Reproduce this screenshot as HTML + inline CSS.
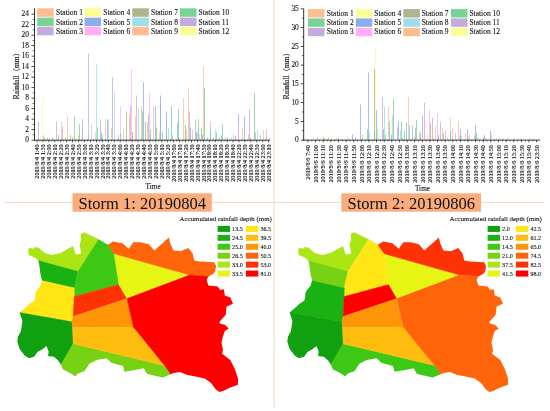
<!DOCTYPE html>
<html lang="en"><head><meta charset="utf-8"><title>Storm rainfall</title>
<style>html,body{margin:0;padding:0;background:#fff}svg{display:block}text{stroke:#111;stroke-width:0.1px}text.big{stroke:none}</style></head>
<body>
<svg width="550" height="411" viewBox="0 0 550 411" font-family='"Liberation Serif", "Noto Serif CJK SC", serif'>
<rect width="550" height="411" fill="#fff"/>
<rect x="273.6" y="0" width="1" height="408" fill="#FBD3BF"/>
<rect x="4.5" y="201.9" width="539.5" height="1" fill="#FBD3BF"/>
<rect x="38" y="121.78" width="1" height="18.38" fill="#C3ACDC" fill-opacity="0.78"/>
<rect x="42" y="98.15" width="1" height="42.00" fill="#FDFD96" fill-opacity="0.78"/>
<rect x="43" y="134.90" width="1" height="5.25" fill="#FCBE91" fill-opacity="0.78"/>
<rect x="44" y="137.53" width="1" height="2.62" fill="#78D496" fill-opacity="0.78"/>
<rect x="47" y="137.53" width="1" height="2.62" fill="#78D496" fill-opacity="0.78"/>
<rect x="49" y="137.53" width="1" height="2.62" fill="#FCBE91" fill-opacity="0.78"/>
<rect x="52" y="137.53" width="1" height="2.62" fill="#78D496" fill-opacity="0.78"/>
<rect x="56" y="121.78" width="1" height="18.38" fill="#C3ACDC" fill-opacity="0.78"/>
<rect x="58" y="134.90" width="1" height="5.25" fill="#78D496" fill-opacity="0.78"/>
<rect x="61" y="121.78" width="1" height="18.38" fill="#FCBE91" fill-opacity="0.78"/>
<rect x="62" y="127.03" width="1" height="13.12" fill="#C3ACDC" fill-opacity="0.78"/>
<rect x="65" y="137.53" width="1" height="2.62" fill="#78D496" fill-opacity="0.78"/>
<rect x="67" y="116.53" width="1" height="23.62" fill="#FCBE91" fill-opacity="0.78"/>
<rect x="70" y="134.90" width="1" height="5.25" fill="#78D496" fill-opacity="0.78"/>
<rect x="72" y="137.53" width="1" height="2.62" fill="#8CAFEB" fill-opacity="0.78"/>
<rect x="74" y="116.53" width="1" height="23.62" fill="#78D496" fill-opacity="0.78"/>
<rect x="78" y="134.90" width="1" height="5.25" fill="#FCBE91" fill-opacity="0.78"/>
<rect x="79" y="124.40" width="1" height="15.75" fill="#78D496" fill-opacity="0.78"/>
<rect x="82" y="127.03" width="1" height="13.12" fill="#AEB48C" fill-opacity="0.78"/>
<rect x="82" y="119.15" width="1" height="21.00" fill="#C3ACDC" fill-opacity="0.78"/>
<rect x="88" y="134.90" width="1" height="5.25" fill="#FCBE91" fill-opacity="0.78"/>
<rect x="88" y="53.53" width="1" height="86.62" fill="#C3ACDC" fill-opacity="0.78"/>
<rect x="91" y="124.40" width="1" height="15.75" fill="#9EDEE8" fill-opacity="0.78"/>
<rect x="95" y="132.28" width="1" height="7.88" fill="#FFAFFA" fill-opacity="0.78"/>
<rect x="96" y="64.03" width="1" height="76.12" fill="#9EDEE8" fill-opacity="0.78"/>
<rect x="97" y="127.03" width="1" height="13.12" fill="#78D496" fill-opacity="0.78"/>
<rect x="100" y="119.15" width="1" height="21.00" fill="#C3ACDC" fill-opacity="0.78"/>
<rect x="101" y="132.28" width="1" height="7.88" fill="#8CAFEB" fill-opacity="0.78"/>
<rect x="102" y="135.43" width="1" height="4.73" fill="#9EDEE8" fill-opacity="0.78"/>
<rect x="105" y="119.15" width="1" height="21.00" fill="#FCBE91" fill-opacity="0.78"/>
<rect x="107" y="119.68" width="1" height="20.47" fill="#8CAFEB" fill-opacity="0.78"/>
<rect x="108" y="119.15" width="1" height="21.00" fill="#9EDEE8" fill-opacity="0.78"/>
<rect x="111" y="127.55" width="1" height="12.60" fill="#FCBE91" fill-opacity="0.78"/>
<rect x="112" y="77.15" width="1" height="63.00" fill="#C3ACDC" fill-opacity="0.78"/>
<rect x="114" y="92.90" width="1" height="47.25" fill="#9EDEE8" fill-opacity="0.78"/>
<rect x="118" y="134.90" width="1" height="5.25" fill="#C3ACDC" fill-opacity="0.78"/>
<rect x="120" y="106.03" width="1" height="34.12" fill="#FFAFFA" fill-opacity="0.78"/>
<rect x="120" y="133.33" width="1" height="6.83" fill="#8CAFEB" fill-opacity="0.78"/>
<rect x="123" y="129.65" width="1" height="10.50" fill="#FCBE91" fill-opacity="0.78"/>
<rect x="126" y="111.28" width="1" height="28.88" fill="#AEB48C" fill-opacity="0.78"/>
<rect x="129" y="113.90" width="1" height="26.25" fill="#FCBE91" fill-opacity="0.78"/>
<rect x="130" y="106.03" width="1" height="34.12" fill="#C3ACDC" fill-opacity="0.78"/>
<rect x="131" y="69.28" width="1" height="70.88" fill="#FFAFFA" fill-opacity="0.78"/>
<rect x="132" y="132.28" width="1" height="7.88" fill="#AEB48C" fill-opacity="0.78"/>
<rect x="135" y="116.53" width="1" height="23.62" fill="#FCBE91" fill-opacity="0.78"/>
<rect x="136" y="95.53" width="1" height="44.62" fill="#C3ACDC" fill-opacity="0.78"/>
<rect x="138" y="108.65" width="1" height="31.50" fill="#9EDEE8" fill-opacity="0.78"/>
<rect x="141" y="106.03" width="1" height="34.12" fill="#FCBE91" fill-opacity="0.78"/>
<rect x="142" y="111.28" width="1" height="28.88" fill="#78D496" fill-opacity="0.78"/>
<rect x="143" y="82.40" width="1" height="57.75" fill="#8CAFEB" fill-opacity="0.78"/>
<rect x="145" y="121.78" width="1" height="18.38" fill="#78D496" fill-opacity="0.78"/>
<rect x="147" y="121.78" width="1" height="18.38" fill="#FCBE91" fill-opacity="0.78"/>
<rect x="148" y="114.43" width="1" height="25.73" fill="#C3ACDC" fill-opacity="0.78"/>
<rect x="149" y="92.90" width="1" height="47.25" fill="#FFAFFA" fill-opacity="0.78"/>
<rect x="150" y="129.65" width="1" height="10.50" fill="#78D496" fill-opacity="0.78"/>
<rect x="153" y="106.03" width="1" height="34.12" fill="#FCBE91" fill-opacity="0.78"/>
<rect x="155" y="106.03" width="1" height="34.12" fill="#8CAFEB" fill-opacity="0.78"/>
<rect x="156" y="127.55" width="1" height="12.60" fill="#78D496" fill-opacity="0.78"/>
<rect x="159" y="132.28" width="1" height="7.88" fill="#FCBE91" fill-opacity="0.78"/>
<rect x="160" y="103.40" width="1" height="36.75" fill="#C3ACDC" fill-opacity="0.78"/>
<rect x="160" y="95.53" width="1" height="44.62" fill="#8CAFEB" fill-opacity="0.78"/>
<rect x="162" y="132.28" width="1" height="7.88" fill="#78D496" fill-opacity="0.78"/>
<rect x="166" y="119.15" width="1" height="21.00" fill="#C3ACDC" fill-opacity="0.78"/>
<rect x="166" y="111.28" width="1" height="28.88" fill="#8CAFEB" fill-opacity="0.78"/>
<rect x="168" y="128.08" width="1" height="12.07" fill="#9EDEE8" fill-opacity="0.78"/>
<rect x="171" y="106.03" width="1" height="34.12" fill="#78D496" fill-opacity="0.78"/>
<rect x="172" y="135.43" width="1" height="4.73" fill="#C3ACDC" fill-opacity="0.78"/>
<rect x="177" y="122.30" width="1" height="17.85" fill="#78D496" fill-opacity="0.78"/>
<rect x="178" y="108.65" width="1" height="31.50" fill="#8CAFEB" fill-opacity="0.78"/>
<rect x="183" y="98.15" width="1" height="42.00" fill="#FCBE91" fill-opacity="0.78"/>
<rect x="184" y="117.58" width="1" height="22.57" fill="#FDFD96" fill-opacity="0.78"/>
<rect x="185" y="124.93" width="1" height="15.22" fill="#8CAFEB" fill-opacity="0.78"/>
<rect x="186" y="129.65" width="1" height="10.50" fill="#FCBE91" fill-opacity="0.78"/>
<rect x="188" y="87.65" width="1" height="52.50" fill="#FCBE91" fill-opacity="0.78"/>
<rect x="189" y="111.28" width="1" height="28.88" fill="#C3ACDC" fill-opacity="0.78"/>
<rect x="190" y="127.55" width="1" height="12.60" fill="#8CAFEB" fill-opacity="0.78"/>
<rect x="192" y="129.65" width="1" height="10.50" fill="#FCBE91" fill-opacity="0.78"/>
<rect x="195" y="119.15" width="1" height="21.00" fill="#C3ACDC" fill-opacity="0.78"/>
<rect x="196" y="132.28" width="1" height="7.88" fill="#8CAFEB" fill-opacity="0.78"/>
<rect x="197" y="130.70" width="1" height="9.45" fill="#9EDEE8" fill-opacity="0.78"/>
<rect x="198" y="119.15" width="1" height="21.00" fill="#78D496" fill-opacity="0.78"/>
<rect x="199" y="134.38" width="1" height="5.78" fill="#FCBE91" fill-opacity="0.78"/>
<rect x="201" y="127.55" width="1" height="12.60" fill="#78D496" fill-opacity="0.78"/>
<rect x="202" y="134.90" width="1" height="5.25" fill="#8CAFEB" fill-opacity="0.78"/>
<rect x="203" y="66.65" width="1" height="73.50" fill="#FCBE91" fill-opacity="0.78"/>
<rect x="204" y="87.65" width="1" height="52.50" fill="#78D496" fill-opacity="0.78"/>
<rect x="207" y="137.53" width="1" height="2.62" fill="#8CAFEB" fill-opacity="0.78"/>
<rect x="210" y="121.78" width="1" height="18.38" fill="#FCBE91" fill-opacity="0.78"/>
<rect x="210" y="127.55" width="1" height="12.60" fill="#78D496" fill-opacity="0.78"/>
<rect x="213" y="137.53" width="1" height="2.62" fill="#C3ACDC" fill-opacity="0.78"/>
<rect x="215" y="129.65" width="1" height="10.50" fill="#9EDEE8" fill-opacity="0.78"/>
<rect x="216" y="132.28" width="1" height="7.88" fill="#78D496" fill-opacity="0.78"/>
<rect x="219" y="137.53" width="1" height="2.62" fill="#C3ACDC" fill-opacity="0.78"/>
<rect x="221" y="135.43" width="1" height="4.73" fill="#8CAFEB" fill-opacity="0.78"/>
<rect x="222" y="124.40" width="1" height="15.75" fill="#78D496" fill-opacity="0.78"/>
<rect x="225" y="137.53" width="1" height="2.62" fill="#FFAFFA" fill-opacity="0.78"/>
<rect x="227" y="137.53" width="1" height="2.62" fill="#78D496" fill-opacity="0.78"/>
<rect x="231" y="137.53" width="1" height="2.62" fill="#FFAFFA" fill-opacity="0.78"/>
<rect x="233" y="134.38" width="1" height="5.78" fill="#9EDEE8" fill-opacity="0.78"/>
<rect x="235" y="135.43" width="1" height="4.73" fill="#C3ACDC" fill-opacity="0.78"/>
<rect x="238" y="113.90" width="1" height="26.25" fill="#8CAFEB" fill-opacity="0.78"/>
<rect x="238" y="124.93" width="1" height="15.22" fill="#FFAFFA" fill-opacity="0.78"/>
<rect x="242" y="127.55" width="1" height="12.60" fill="#FCBE91" fill-opacity="0.78"/>
<rect x="244" y="116.53" width="1" height="23.62" fill="#8CAFEB" fill-opacity="0.78"/>
<rect x="248" y="134.38" width="1" height="5.78" fill="#FCBE91" fill-opacity="0.78"/>
<rect x="249" y="108.65" width="1" height="31.50" fill="#C3ACDC" fill-opacity="0.78"/>
<rect x="250" y="137.53" width="1" height="2.62" fill="#8CAFEB" fill-opacity="0.78"/>
<rect x="254" y="92.90" width="1" height="47.25" fill="#78D496" fill-opacity="0.78"/>
<rect x="255" y="132.28" width="1" height="7.88" fill="#C3ACDC" fill-opacity="0.78"/>
<rect x="257" y="129.65" width="1" height="10.50" fill="#9EDEE8" fill-opacity="0.78"/>
<rect x="260" y="134.90" width="1" height="5.25" fill="#C3ACDC" fill-opacity="0.78"/>
<rect x="263" y="129.65" width="1" height="10.50" fill="#FCBE91" fill-opacity="0.78"/>
<rect x="266" y="129.65" width="1" height="10.50" fill="#C3ACDC" fill-opacity="0.78"/>
<rect x="269" y="137.53" width="1" height="2.62" fill="#9EDEE8" fill-opacity="0.78"/>
<rect x="34.05" y="8.50" width="0.9" height="132.10" fill="#222"/>
<rect x="34.05" y="139.70" width="235.95" height="0.9" fill="#222"/>
<rect x="31.50" y="139.75" width="3" height="0.8" fill="#222"/>
<text x="29.00" y="142.45" font-size="7.4" text-anchor="end" fill="#111" >0</text>
<rect x="32.70" y="134.55" width="1.8" height="0.7" fill="#222"/>
<rect x="31.50" y="129.25" width="3" height="0.8" fill="#222"/>
<text x="29.00" y="131.95" font-size="7.4" text-anchor="end" fill="#111" >2</text>
<rect x="32.70" y="124.05" width="1.8" height="0.7" fill="#222"/>
<rect x="31.50" y="118.75" width="3" height="0.8" fill="#222"/>
<text x="29.00" y="121.45" font-size="7.4" text-anchor="end" fill="#111" >4</text>
<rect x="32.70" y="113.55" width="1.8" height="0.7" fill="#222"/>
<rect x="31.50" y="108.25" width="3" height="0.8" fill="#222"/>
<text x="29.00" y="110.95" font-size="7.4" text-anchor="end" fill="#111" >6</text>
<rect x="32.70" y="103.05" width="1.8" height="0.7" fill="#222"/>
<rect x="31.50" y="97.75" width="3" height="0.8" fill="#222"/>
<text x="29.00" y="100.45" font-size="7.4" text-anchor="end" fill="#111" >8</text>
<rect x="32.70" y="92.55" width="1.8" height="0.7" fill="#222"/>
<rect x="31.50" y="87.25" width="3" height="0.8" fill="#222"/>
<text x="29.00" y="89.95" font-size="7.4" text-anchor="end" fill="#111" >10</text>
<rect x="32.70" y="82.05" width="1.8" height="0.7" fill="#222"/>
<rect x="31.50" y="76.75" width="3" height="0.8" fill="#222"/>
<text x="29.00" y="79.45" font-size="7.4" text-anchor="end" fill="#111" >12</text>
<rect x="32.70" y="71.55" width="1.8" height="0.7" fill="#222"/>
<rect x="31.50" y="66.25" width="3" height="0.8" fill="#222"/>
<text x="29.00" y="68.95" font-size="7.4" text-anchor="end" fill="#111" >14</text>
<rect x="32.70" y="61.05" width="1.8" height="0.7" fill="#222"/>
<rect x="31.50" y="55.75" width="3" height="0.8" fill="#222"/>
<text x="29.00" y="58.45" font-size="7.4" text-anchor="end" fill="#111" >16</text>
<rect x="32.70" y="50.55" width="1.8" height="0.7" fill="#222"/>
<rect x="31.50" y="45.25" width="3" height="0.8" fill="#222"/>
<text x="29.00" y="47.95" font-size="7.4" text-anchor="end" fill="#111" >18</text>
<rect x="32.70" y="40.05" width="1.8" height="0.7" fill="#222"/>
<rect x="31.50" y="34.75" width="3" height="0.8" fill="#222"/>
<text x="29.00" y="37.45" font-size="7.4" text-anchor="end" fill="#111" >20</text>
<rect x="32.70" y="29.55" width="1.8" height="0.7" fill="#222"/>
<rect x="31.50" y="24.25" width="3" height="0.8" fill="#222"/>
<text x="29.00" y="26.95" font-size="7.4" text-anchor="end" fill="#111" >22</text>
<rect x="32.70" y="19.05" width="1.8" height="0.7" fill="#222"/>
<rect x="31.50" y="13.75" width="3" height="0.8" fill="#222"/>
<text x="29.00" y="16.45" font-size="7.4" text-anchor="end" fill="#111" >24</text>
<rect x="36.60" y="140.15" width="0.8" height="2.1" fill="#222"/>
<rect x="39.62" y="140.15" width="0.7" height="1.3" fill="#222"/>
<text transform="translate(39.20,144.4) rotate(-90) scale(0.8662,1)" font-size="7.1" text-anchor="end" fill="#000" stroke="#000" stroke-width="0.09">2019/8/4 1:40</text>
<rect x="42.54" y="140.15" width="0.8" height="2.1" fill="#222"/>
<rect x="45.56" y="140.15" width="0.7" height="1.3" fill="#222"/>
<text transform="translate(45.14,144.4) rotate(-90) scale(0.8662,1)" font-size="7.1" text-anchor="end" fill="#000" stroke="#000" stroke-width="0.09">2019/8/4 1:50</text>
<rect x="48.48" y="140.15" width="0.8" height="2.1" fill="#222"/>
<rect x="51.50" y="140.15" width="0.7" height="1.3" fill="#222"/>
<text transform="translate(51.08,144.4) rotate(-90) scale(0.8662,1)" font-size="7.1" text-anchor="end" fill="#000" stroke="#000" stroke-width="0.09">2019/8/4 2:00</text>
<rect x="54.42" y="140.15" width="0.8" height="2.1" fill="#222"/>
<rect x="57.44" y="140.15" width="0.7" height="1.3" fill="#222"/>
<text transform="translate(57.02,144.4) rotate(-90) scale(0.8662,1)" font-size="7.1" text-anchor="end" fill="#000" stroke="#000" stroke-width="0.09">2019/8/4 2:10</text>
<rect x="60.36" y="140.15" width="0.8" height="2.1" fill="#222"/>
<rect x="63.38" y="140.15" width="0.7" height="1.3" fill="#222"/>
<text transform="translate(62.96,144.4) rotate(-90) scale(0.8662,1)" font-size="7.1" text-anchor="end" fill="#000" stroke="#000" stroke-width="0.09">2019/8/4 2:20</text>
<rect x="66.30" y="140.15" width="0.8" height="2.1" fill="#222"/>
<rect x="69.32" y="140.15" width="0.7" height="1.3" fill="#222"/>
<text transform="translate(68.90,144.4) rotate(-90) scale(0.8662,1)" font-size="7.1" text-anchor="end" fill="#000" stroke="#000" stroke-width="0.09">2019/8/4 2:30</text>
<rect x="72.24" y="140.15" width="0.8" height="2.1" fill="#222"/>
<rect x="75.26" y="140.15" width="0.7" height="1.3" fill="#222"/>
<text transform="translate(74.84,144.4) rotate(-90) scale(0.8662,1)" font-size="7.1" text-anchor="end" fill="#000" stroke="#000" stroke-width="0.09">2019/8/4 2:40</text>
<rect x="78.18" y="140.15" width="0.8" height="2.1" fill="#222"/>
<rect x="81.20" y="140.15" width="0.7" height="1.3" fill="#222"/>
<text transform="translate(80.78,144.4) rotate(-90) scale(0.8662,1)" font-size="7.1" text-anchor="end" fill="#000" stroke="#000" stroke-width="0.09">2019/8/4 2:50</text>
<rect x="84.12" y="140.15" width="0.8" height="2.1" fill="#222"/>
<rect x="87.14" y="140.15" width="0.7" height="1.3" fill="#222"/>
<text transform="translate(86.72,144.4) rotate(-90) scale(0.8662,1)" font-size="7.1" text-anchor="end" fill="#000" stroke="#000" stroke-width="0.09">2019/8/4 3:00</text>
<rect x="90.06" y="140.15" width="0.8" height="2.1" fill="#222"/>
<rect x="93.08" y="140.15" width="0.7" height="1.3" fill="#222"/>
<text transform="translate(92.66,144.4) rotate(-90) scale(0.8662,1)" font-size="7.1" text-anchor="end" fill="#000" stroke="#000" stroke-width="0.09">2019/8/4 3:10</text>
<rect x="96.00" y="140.15" width="0.8" height="2.1" fill="#222"/>
<rect x="99.02" y="140.15" width="0.7" height="1.3" fill="#222"/>
<text transform="translate(98.60,144.4) rotate(-90) scale(0.8662,1)" font-size="7.1" text-anchor="end" fill="#000" stroke="#000" stroke-width="0.09">2019/8/4 3:20</text>
<rect x="101.94" y="140.15" width="0.8" height="2.1" fill="#222"/>
<rect x="104.96" y="140.15" width="0.7" height="1.3" fill="#222"/>
<text transform="translate(104.54,144.4) rotate(-90) scale(0.8662,1)" font-size="7.1" text-anchor="end" fill="#000" stroke="#000" stroke-width="0.09">2019/8/4 3:30</text>
<rect x="107.88" y="140.15" width="0.8" height="2.1" fill="#222"/>
<rect x="110.90" y="140.15" width="0.7" height="1.3" fill="#222"/>
<text transform="translate(110.48,144.4) rotate(-90) scale(0.8662,1)" font-size="7.1" text-anchor="end" fill="#000" stroke="#000" stroke-width="0.09">2019/8/4 3:40</text>
<rect x="113.82" y="140.15" width="0.8" height="2.1" fill="#222"/>
<rect x="116.84" y="140.15" width="0.7" height="1.3" fill="#222"/>
<text transform="translate(116.42,144.4) rotate(-90) scale(0.8662,1)" font-size="7.1" text-anchor="end" fill="#000" stroke="#000" stroke-width="0.09">2019/8/4 3:50</text>
<rect x="119.76" y="140.15" width="0.8" height="2.1" fill="#222"/>
<rect x="122.78" y="140.15" width="0.7" height="1.3" fill="#222"/>
<text transform="translate(122.36,144.4) rotate(-90) scale(0.8662,1)" font-size="7.1" text-anchor="end" fill="#000" stroke="#000" stroke-width="0.09">2019/8/4 4:00</text>
<rect x="125.70" y="140.15" width="0.8" height="2.1" fill="#222"/>
<rect x="128.72" y="140.15" width="0.7" height="1.3" fill="#222"/>
<text transform="translate(128.30,144.4) rotate(-90) scale(0.8662,1)" font-size="7.1" text-anchor="end" fill="#000" stroke="#000" stroke-width="0.09">2019/8/4 4:10</text>
<rect x="131.64" y="140.15" width="0.8" height="2.1" fill="#222"/>
<rect x="134.66" y="140.15" width="0.7" height="1.3" fill="#222"/>
<text transform="translate(134.24,144.4) rotate(-90) scale(0.8662,1)" font-size="7.1" text-anchor="end" fill="#000" stroke="#000" stroke-width="0.09">2019/8/4 4:20</text>
<rect x="137.58" y="140.15" width="0.8" height="2.1" fill="#222"/>
<rect x="140.60" y="140.15" width="0.7" height="1.3" fill="#222"/>
<text transform="translate(140.18,144.4) rotate(-90) scale(0.8662,1)" font-size="7.1" text-anchor="end" fill="#000" stroke="#000" stroke-width="0.09">2019/8/4 4:30</text>
<rect x="143.52" y="140.15" width="0.8" height="2.1" fill="#222"/>
<rect x="146.54" y="140.15" width="0.7" height="1.3" fill="#222"/>
<text transform="translate(146.12,144.4) rotate(-90) scale(0.8662,1)" font-size="7.1" text-anchor="end" fill="#000" stroke="#000" stroke-width="0.09">2019/8/4 4:40</text>
<rect x="149.46" y="140.15" width="0.8" height="2.1" fill="#222"/>
<rect x="152.48" y="140.15" width="0.7" height="1.3" fill="#222"/>
<text transform="translate(152.06,144.4) rotate(-90) scale(0.8662,1)" font-size="7.1" text-anchor="end" fill="#000" stroke="#000" stroke-width="0.09">2019/8/4 4:50</text>
<rect x="155.40" y="140.15" width="0.8" height="2.1" fill="#222"/>
<rect x="158.42" y="140.15" width="0.7" height="1.3" fill="#222"/>
<text transform="translate(158.00,144.4) rotate(-90) scale(0.8662,1)" font-size="7.1" text-anchor="end" fill="#000" stroke="#000" stroke-width="0.09">2019/8/4 5:00</text>
<rect x="161.34" y="140.15" width="0.8" height="2.1" fill="#222"/>
<rect x="164.36" y="140.15" width="0.7" height="1.3" fill="#222"/>
<text transform="translate(163.94,144.4) rotate(-90) scale(0.8662,1)" font-size="7.1" text-anchor="end" fill="#000" stroke="#000" stroke-width="0.09">2019/8/4 5:10</text>
<rect x="167.28" y="140.15" width="0.8" height="2.1" fill="#222"/>
<rect x="170.30" y="140.15" width="0.7" height="1.3" fill="#222"/>
<text transform="translate(169.88,144.4) rotate(-90) scale(0.8662,1)" font-size="7.1" text-anchor="end" fill="#000" stroke="#000" stroke-width="0.09">2019/8/4 5:20</text>
<rect x="173.22" y="140.15" width="0.8" height="2.1" fill="#222"/>
<rect x="176.24" y="140.15" width="0.7" height="1.3" fill="#222"/>
<text transform="translate(175.82,144.4) rotate(-90) scale(0.8662,1)" font-size="7.1" text-anchor="end" fill="#000" stroke="#000" stroke-width="0.09">2019/8/4 17:00</text>
<rect x="179.16" y="140.15" width="0.8" height="2.1" fill="#222"/>
<rect x="182.18" y="140.15" width="0.7" height="1.3" fill="#222"/>
<text transform="translate(181.76,144.4) rotate(-90) scale(0.8662,1)" font-size="7.1" text-anchor="end" fill="#000" stroke="#000" stroke-width="0.09">2019/8/4 17:10</text>
<rect x="185.10" y="140.15" width="0.8" height="2.1" fill="#222"/>
<rect x="188.12" y="140.15" width="0.7" height="1.3" fill="#222"/>
<text transform="translate(187.70,144.4) rotate(-90) scale(0.8662,1)" font-size="7.1" text-anchor="end" fill="#000" stroke="#000" stroke-width="0.09">2019/8/4 17:20</text>
<rect x="191.04" y="140.15" width="0.8" height="2.1" fill="#222"/>
<rect x="194.06" y="140.15" width="0.7" height="1.3" fill="#222"/>
<text transform="translate(193.64,144.4) rotate(-90) scale(0.8662,1)" font-size="7.1" text-anchor="end" fill="#000" stroke="#000" stroke-width="0.09">2019/8/4 17:30</text>
<rect x="196.98" y="140.15" width="0.8" height="2.1" fill="#222"/>
<rect x="200.00" y="140.15" width="0.7" height="1.3" fill="#222"/>
<text transform="translate(199.58,144.4) rotate(-90) scale(0.8662,1)" font-size="7.1" text-anchor="end" fill="#000" stroke="#000" stroke-width="0.09">2019/8/4 17:40</text>
<rect x="202.92" y="140.15" width="0.8" height="2.1" fill="#222"/>
<rect x="205.94" y="140.15" width="0.7" height="1.3" fill="#222"/>
<text transform="translate(205.52,144.4) rotate(-90) scale(0.8662,1)" font-size="7.1" text-anchor="end" fill="#000" stroke="#000" stroke-width="0.09">2019/8/4 17:50</text>
<rect x="208.86" y="140.15" width="0.8" height="2.1" fill="#222"/>
<rect x="211.88" y="140.15" width="0.7" height="1.3" fill="#222"/>
<text transform="translate(211.46,144.4) rotate(-90) scale(0.8662,1)" font-size="7.1" text-anchor="end" fill="#000" stroke="#000" stroke-width="0.09">2019/8/4 18:00</text>
<rect x="214.80" y="140.15" width="0.8" height="2.1" fill="#222"/>
<rect x="217.82" y="140.15" width="0.7" height="1.3" fill="#222"/>
<text transform="translate(217.40,144.4) rotate(-90) scale(0.8662,1)" font-size="7.1" text-anchor="end" fill="#000" stroke="#000" stroke-width="0.09">2019/8/4 18:10</text>
<rect x="220.74" y="140.15" width="0.8" height="2.1" fill="#222"/>
<rect x="223.76" y="140.15" width="0.7" height="1.3" fill="#222"/>
<text transform="translate(223.34,144.4) rotate(-90) scale(0.8662,1)" font-size="7.1" text-anchor="end" fill="#000" stroke="#000" stroke-width="0.09">2019/8/4 18:20</text>
<rect x="226.68" y="140.15" width="0.8" height="2.1" fill="#222"/>
<rect x="229.70" y="140.15" width="0.7" height="1.3" fill="#222"/>
<text transform="translate(229.28,144.4) rotate(-90) scale(0.8662,1)" font-size="7.1" text-anchor="end" fill="#000" stroke="#000" stroke-width="0.09">2019/8/4 18:30</text>
<rect x="232.62" y="140.15" width="0.8" height="2.1" fill="#222"/>
<rect x="235.64" y="140.15" width="0.7" height="1.3" fill="#222"/>
<text transform="translate(235.22,144.4) rotate(-90) scale(0.8662,1)" font-size="7.1" text-anchor="end" fill="#000" stroke="#000" stroke-width="0.09">2019/8/4 18:40</text>
<rect x="238.56" y="140.15" width="0.8" height="2.1" fill="#222"/>
<rect x="241.58" y="140.15" width="0.7" height="1.3" fill="#222"/>
<text transform="translate(241.16,144.4) rotate(-90) scale(0.8662,1)" font-size="7.1" text-anchor="end" fill="#000" stroke="#000" stroke-width="0.09">2019/8/4 22:20</text>
<rect x="244.50" y="140.15" width="0.8" height="2.1" fill="#222"/>
<rect x="247.52" y="140.15" width="0.7" height="1.3" fill="#222"/>
<text transform="translate(247.10,144.4) rotate(-90) scale(0.8662,1)" font-size="7.1" text-anchor="end" fill="#000" stroke="#000" stroke-width="0.09">2019/8/4 22:30</text>
<rect x="250.44" y="140.15" width="0.8" height="2.1" fill="#222"/>
<rect x="253.46" y="140.15" width="0.7" height="1.3" fill="#222"/>
<text transform="translate(253.04,144.4) rotate(-90) scale(0.8662,1)" font-size="7.1" text-anchor="end" fill="#000" stroke="#000" stroke-width="0.09">2019/8/4 22:40</text>
<rect x="256.38" y="140.15" width="0.8" height="2.1" fill="#222"/>
<rect x="259.40" y="140.15" width="0.7" height="1.3" fill="#222"/>
<text transform="translate(258.98,144.4) rotate(-90) scale(0.8662,1)" font-size="7.1" text-anchor="end" fill="#000" stroke="#000" stroke-width="0.09">2019/8/4 22:50</text>
<rect x="262.32" y="140.15" width="0.8" height="2.1" fill="#222"/>
<rect x="265.34" y="140.15" width="0.7" height="1.3" fill="#222"/>
<text transform="translate(264.92,144.4) rotate(-90) scale(0.8662,1)" font-size="7.1" text-anchor="end" fill="#000" stroke="#000" stroke-width="0.09">2019/8/4 23:00</text>
<rect x="268.26" y="140.15" width="0.8" height="2.1" fill="#222"/>
<text transform="translate(270.86,144.4) rotate(-90) scale(0.8662,1)" font-size="7.1" text-anchor="end" fill="#000" stroke="#000" stroke-width="0.09">2019/8/4 23:10</text>
<text transform="translate(19.00,99.3) rotate(-90)" font-size="7.4" text-anchor="start" fill="#111">Rainfall（mm）</text>
<text x="153.10" y="188.80" font-size="7.3" text-anchor="middle" fill="#111" >Time</text>
<rect x="37.20" y="8.30" width="16.5" height="8.5" fill="#FCBE91"/>
<text x="56.10" y="15.20" font-size="7.5" text-anchor="start" fill="#111" >Station 1</text>
<rect x="37.20" y="17.60" width="16.5" height="8.5" fill="#78D496"/>
<text x="56.10" y="24.50" font-size="7.5" text-anchor="start" fill="#111" >Station 2</text>
<rect x="37.20" y="26.80" width="16.5" height="8.5" fill="#C3ACDC"/>
<text x="56.10" y="33.80" font-size="7.5" text-anchor="start" fill="#111" >Station 3</text>
<rect x="84.60" y="8.30" width="16.5" height="8.5" fill="#FDFD96"/>
<text x="103.30" y="15.20" font-size="7.5" text-anchor="start" fill="#111" >Station 4</text>
<rect x="84.60" y="17.60" width="16.5" height="8.5" fill="#8CAFEB"/>
<text x="103.30" y="24.50" font-size="7.5" text-anchor="start" fill="#111" >Station 5</text>
<rect x="84.60" y="26.80" width="16.5" height="8.5" fill="#FFAFFA"/>
<text x="103.30" y="33.80" font-size="7.5" text-anchor="start" fill="#111" >Station 6</text>
<rect x="132.30" y="8.30" width="16.5" height="8.5" fill="#AEB48C"/>
<text x="151.00" y="15.20" font-size="7.5" text-anchor="start" fill="#111" >Station 7</text>
<rect x="132.30" y="17.60" width="16.5" height="8.5" fill="#9EDEE8"/>
<text x="151.00" y="24.50" font-size="7.5" text-anchor="start" fill="#111" >Station 8</text>
<rect x="132.30" y="26.80" width="16.5" height="8.5" fill="#FCBE91"/>
<text x="151.00" y="33.80" font-size="7.5" text-anchor="start" fill="#111" >Station 9</text>
<rect x="180.00" y="8.30" width="16.5" height="8.5" fill="#78D496"/>
<text x="198.60" y="15.20" font-size="7.5" text-anchor="start" fill="#111" >Station 10</text>
<rect x="180.00" y="17.60" width="16.5" height="8.5" fill="#C3ACDC"/>
<text x="198.60" y="24.50" font-size="7.5" text-anchor="start" fill="#111" >Station 11</text>
<rect x="180.00" y="26.80" width="16.5" height="8.5" fill="#FDFD96"/>
<text x="198.60" y="33.80" font-size="7.5" text-anchor="start" fill="#111" >Station 12</text>
<rect x="307" y="138.97" width="1" height="1.12" fill="#FCBE91" fill-opacity="0.78"/>
<rect x="313" y="136.91" width="1" height="3.19" fill="#FDFD96" fill-opacity="0.78"/>
<rect x="317" y="136.91" width="1" height="3.19" fill="#C3ACDC" fill-opacity="0.78"/>
<rect x="321" y="134.47" width="1" height="5.62" fill="#FDFD96" fill-opacity="0.78"/>
<rect x="323" y="136.91" width="1" height="3.19" fill="#8CAFEB" fill-opacity="0.78"/>
<rect x="324" y="138.22" width="1" height="1.88" fill="#9EDEE8" fill-opacity="0.78"/>
<rect x="328" y="136.91" width="1" height="3.19" fill="#FCBE91" fill-opacity="0.78"/>
<rect x="331" y="137.47" width="1" height="2.62" fill="#FDFD96" fill-opacity="0.78"/>
<rect x="336" y="138.22" width="1" height="1.88" fill="#FCBE91" fill-opacity="0.78"/>
<rect x="338" y="136.91" width="1" height="3.19" fill="#9EDEE8" fill-opacity="0.78"/>
<rect x="345" y="138.22" width="1" height="1.88" fill="#FDFD96" fill-opacity="0.78"/>
<rect x="347" y="136.91" width="1" height="3.19" fill="#FCBE91" fill-opacity="0.78"/>
<rect x="352" y="134.47" width="1" height="5.62" fill="#8CAFEB" fill-opacity="0.78"/>
<rect x="355" y="136.91" width="1" height="3.19" fill="#C3ACDC" fill-opacity="0.78"/>
<rect x="360" y="104.47" width="1" height="35.62" fill="#8CAFEB" fill-opacity="0.78"/>
<rect x="362" y="134.47" width="1" height="5.62" fill="#FCBE91" fill-opacity="0.78"/>
<rect x="367" y="129.22" width="1" height="10.88" fill="#78D496" fill-opacity="0.78"/>
<rect x="368" y="72.60" width="1" height="67.50" fill="#8CAFEB" fill-opacity="0.78"/>
<rect x="369" y="132.97" width="1" height="7.12" fill="#9EDEE8" fill-opacity="0.78"/>
<rect x="374" y="130.72" width="1" height="9.38" fill="#78D496" fill-opacity="0.78"/>
<rect x="374" y="68.85" width="1" height="71.25" fill="#AEB48C" fill-opacity="0.78"/>
<rect x="375" y="48.22" width="1" height="91.88" fill="#FDFD96" fill-opacity="0.78"/>
<rect x="376" y="110.10" width="1" height="30.00" fill="#8CAFEB" fill-opacity="0.78"/>
<rect x="377" y="129.22" width="1" height="10.88" fill="#9EDEE8" fill-opacity="0.78"/>
<rect x="379" y="135.60" width="1" height="4.50" fill="#FDFD96" fill-opacity="0.78"/>
<rect x="382" y="96.97" width="1" height="43.12" fill="#C3ACDC" fill-opacity="0.78"/>
<rect x="383" y="129.22" width="1" height="10.88" fill="#8CAFEB" fill-opacity="0.78"/>
<rect x="384" y="106.35" width="1" height="33.75" fill="#9EDEE8" fill-opacity="0.78"/>
<rect x="385" y="134.85" width="1" height="5.25" fill="#78D496" fill-opacity="0.78"/>
<rect x="388" y="106.35" width="1" height="33.75" fill="#FCBE91" fill-opacity="0.78"/>
<rect x="389" y="121.72" width="1" height="18.38" fill="#78D496" fill-opacity="0.78"/>
<rect x="391" y="134.85" width="1" height="5.25" fill="#8CAFEB" fill-opacity="0.78"/>
<rect x="392" y="115.35" width="1" height="24.75" fill="#9EDEE8" fill-opacity="0.78"/>
<rect x="393" y="98.85" width="1" height="41.25" fill="#78D496" fill-opacity="0.78"/>
<rect x="397" y="127.35" width="1" height="12.75" fill="#C3ACDC" fill-opacity="0.78"/>
<rect x="398" y="121.72" width="1" height="18.38" fill="#8CAFEB" fill-opacity="0.78"/>
<rect x="400" y="130.72" width="1" height="9.38" fill="#9EDEE8" fill-opacity="0.78"/>
<rect x="401" y="121.72" width="1" height="18.38" fill="#78D496" fill-opacity="0.78"/>
<rect x="402" y="136.91" width="1" height="3.19" fill="#FFAFFA" fill-opacity="0.78"/>
<rect x="404" y="130.72" width="1" height="9.38" fill="#78D496" fill-opacity="0.78"/>
<rect x="406" y="122.85" width="1" height="17.25" fill="#8CAFEB" fill-opacity="0.78"/>
<rect x="408" y="96.97" width="1" height="43.12" fill="#FCBE91" fill-opacity="0.78"/>
<rect x="409" y="125.47" width="1" height="14.62" fill="#78D496" fill-opacity="0.78"/>
<rect x="412" y="131.85" width="1" height="8.25" fill="#FCBE91" fill-opacity="0.78"/>
<rect x="412" y="125.47" width="1" height="14.62" fill="#C3ACDC" fill-opacity="0.78"/>
<rect x="414" y="136.91" width="1" height="3.19" fill="#C3ACDC" fill-opacity="0.78"/>
<rect x="415" y="128.10" width="1" height="12.00" fill="#78D496" fill-opacity="0.78"/>
<rect x="416" y="119.85" width="1" height="20.25" fill="#78D496" fill-opacity="0.78"/>
<rect x="419" y="131.10" width="1" height="9.00" fill="#FCBE91" fill-opacity="0.78"/>
<rect x="420" y="132.97" width="1" height="7.12" fill="#8CAFEB" fill-opacity="0.78"/>
<rect x="422" y="115.72" width="1" height="24.38" fill="#FCBE91" fill-opacity="0.78"/>
<rect x="422" y="115.72" width="1" height="24.38" fill="#C3ACDC" fill-opacity="0.78"/>
<rect x="424" y="102.60" width="1" height="37.50" fill="#C3ACDC" fill-opacity="0.78"/>
<rect x="425" y="132.97" width="1" height="7.12" fill="#FDFD96" fill-opacity="0.78"/>
<rect x="427" y="134.85" width="1" height="5.25" fill="#FCBE91" fill-opacity="0.78"/>
<rect x="429" y="110.10" width="1" height="30.00" fill="#FFAFFA" fill-opacity="0.78"/>
<rect x="430" y="122.85" width="1" height="17.25" fill="#AEB48C" fill-opacity="0.78"/>
<rect x="432" y="117.60" width="1" height="22.50" fill="#C3ACDC" fill-opacity="0.78"/>
<rect x="433" y="134.85" width="1" height="5.25" fill="#FDFD96" fill-opacity="0.78"/>
<rect x="435" y="125.47" width="1" height="14.62" fill="#FCBE91" fill-opacity="0.78"/>
<rect x="437" y="113.47" width="1" height="26.62" fill="#FFAFFA" fill-opacity="0.78"/>
<rect x="438" y="134.85" width="1" height="5.25" fill="#8CAFEB" fill-opacity="0.78"/>
<rect x="440" y="121.72" width="1" height="18.38" fill="#C3ACDC" fill-opacity="0.78"/>
<rect x="442" y="128.47" width="1" height="11.62" fill="#FCBE91" fill-opacity="0.78"/>
<rect x="443" y="132.97" width="1" height="7.12" fill="#78D496" fill-opacity="0.78"/>
<rect x="445" y="130.72" width="1" height="9.38" fill="#C3ACDC" fill-opacity="0.78"/>
<rect x="447" y="136.91" width="1" height="3.19" fill="#FFAFFA" fill-opacity="0.78"/>
<rect x="450" y="117.22" width="1" height="22.88" fill="#FCBE91" fill-opacity="0.78"/>
<rect x="450" y="131.10" width="1" height="9.00" fill="#78D496" fill-opacity="0.78"/>
<rect x="452" y="127.35" width="1" height="12.75" fill="#FFAFFA" fill-opacity="0.78"/>
<rect x="455" y="132.97" width="1" height="7.12" fill="#C3ACDC" fill-opacity="0.78"/>
<rect x="458" y="120.97" width="1" height="19.12" fill="#FCBE91" fill-opacity="0.78"/>
<rect x="459" y="135.60" width="1" height="4.50" fill="#FFAFFA" fill-opacity="0.78"/>
<rect x="460" y="129.22" width="1" height="10.88" fill="#8CAFEB" fill-opacity="0.78"/>
<rect x="461" y="135.60" width="1" height="4.50" fill="#9EDEE8" fill-opacity="0.78"/>
<rect x="465" y="132.97" width="1" height="7.12" fill="#FCBE91" fill-opacity="0.78"/>
<rect x="467" y="129.22" width="1" height="10.88" fill="#8CAFEB" fill-opacity="0.78"/>
<rect x="468" y="136.35" width="1" height="3.75" fill="#9EDEE8" fill-opacity="0.78"/>
<rect x="469" y="134.85" width="1" height="5.25" fill="#FCBE91" fill-opacity="0.78"/>
<rect x="474" y="135.60" width="1" height="4.50" fill="#C3ACDC" fill-opacity="0.78"/>
<rect x="475" y="124.72" width="1" height="15.37" fill="#8CAFEB" fill-opacity="0.78"/>
<rect x="476" y="132.97" width="1" height="7.12" fill="#78D496" fill-opacity="0.78"/>
<rect x="477" y="136.91" width="1" height="3.19" fill="#FCBE91" fill-opacity="0.78"/>
<rect x="483" y="136.91" width="1" height="3.19" fill="#8CAFEB" fill-opacity="0.78"/>
<rect x="484" y="134.85" width="1" height="5.25" fill="#78D496" fill-opacity="0.78"/>
<rect x="485" y="138.22" width="1" height="1.88" fill="#C3ACDC" fill-opacity="0.78"/>
<rect x="490" y="130.72" width="1" height="9.38" fill="#8CAFEB" fill-opacity="0.78"/>
<rect x="491" y="134.47" width="1" height="5.62" fill="#FFAFFA" fill-opacity="0.78"/>
<rect x="496" y="138.22" width="1" height="1.88" fill="#FCBE91" fill-opacity="0.78"/>
<rect x="499" y="136.91" width="1" height="3.19" fill="#9EDEE8" fill-opacity="0.78"/>
<rect x="503" y="138.22" width="1" height="1.88" fill="#FCBE91" fill-opacity="0.78"/>
<rect x="507" y="136.91" width="1" height="3.19" fill="#9EDEE8" fill-opacity="0.78"/>
<rect x="514" y="138.22" width="1" height="1.88" fill="#9EDEE8" fill-opacity="0.78"/>
<rect x="521" y="138.22" width="1" height="1.88" fill="#8CAFEB" fill-opacity="0.78"/>
<rect x="529" y="138.22" width="1" height="1.88" fill="#FFAFFA" fill-opacity="0.78"/>
<rect x="534" y="138.60" width="1" height="1.50" fill="#FCBE91" fill-opacity="0.78"/>
<rect x="303.25" y="8.70" width="0.9" height="131.85" fill="#222"/>
<rect x="303.25" y="139.65" width="236.75" height="0.9" fill="#222"/>
<rect x="300.70" y="139.70" width="3" height="0.8" fill="#222"/>
<text x="298.80" y="142.40" font-size="7.4" text-anchor="end" fill="#111" >0</text>
<rect x="301.90" y="130.38" width="1.8" height="0.7" fill="#222"/>
<rect x="300.70" y="120.95" width="3" height="0.8" fill="#222"/>
<text x="298.80" y="123.65" font-size="7.4" text-anchor="end" fill="#111" >5</text>
<rect x="301.90" y="111.62" width="1.8" height="0.7" fill="#222"/>
<rect x="300.70" y="102.20" width="3" height="0.8" fill="#222"/>
<text x="298.80" y="104.90" font-size="7.4" text-anchor="end" fill="#111" >10</text>
<rect x="301.90" y="92.88" width="1.8" height="0.7" fill="#222"/>
<rect x="300.70" y="83.45" width="3" height="0.8" fill="#222"/>
<text x="298.80" y="86.15" font-size="7.4" text-anchor="end" fill="#111" >15</text>
<rect x="301.90" y="74.12" width="1.8" height="0.7" fill="#222"/>
<rect x="300.70" y="64.70" width="3" height="0.8" fill="#222"/>
<text x="298.80" y="67.40" font-size="7.4" text-anchor="end" fill="#111" >20</text>
<rect x="301.90" y="55.37" width="1.8" height="0.7" fill="#222"/>
<rect x="300.70" y="45.95" width="3" height="0.8" fill="#222"/>
<text x="298.80" y="48.65" font-size="7.4" text-anchor="end" fill="#111" >25</text>
<rect x="301.90" y="36.62" width="1.8" height="0.7" fill="#222"/>
<rect x="300.70" y="27.20" width="3" height="0.8" fill="#222"/>
<text x="298.80" y="29.90" font-size="7.4" text-anchor="end" fill="#111" >30</text>
<rect x="301.90" y="17.87" width="1.8" height="0.7" fill="#222"/>
<rect x="300.70" y="8.45" width="3" height="0.8" fill="#222"/>
<text x="298.80" y="11.15" font-size="7.4" text-anchor="end" fill="#111" >35</text>
<rect x="307.60" y="140.10" width="0.8" height="2.1" fill="#222"/>
<rect x="311.46" y="140.10" width="0.7" height="1.3" fill="#222"/>
<text transform="translate(310.20,145.1) rotate(-90) scale(0.8732,1)" font-size="7.1" text-anchor="end" fill="#000" stroke="#000" stroke-width="0.09">2019/8/6 7:40</text>
<rect x="315.22" y="140.10" width="0.8" height="2.1" fill="#222"/>
<rect x="319.08" y="140.10" width="0.7" height="1.3" fill="#222"/>
<text transform="translate(317.82,145.1) rotate(-90) scale(0.8732,1)" font-size="7.1" text-anchor="end" fill="#000" stroke="#000" stroke-width="0.09">2019/8/6 11:00</text>
<rect x="322.84" y="140.10" width="0.8" height="2.1" fill="#222"/>
<rect x="326.70" y="140.10" width="0.7" height="1.3" fill="#222"/>
<text transform="translate(325.44,145.1) rotate(-90) scale(0.8732,1)" font-size="7.1" text-anchor="end" fill="#000" stroke="#000" stroke-width="0.09">2019/8/6 11:10</text>
<rect x="330.46" y="140.10" width="0.8" height="2.1" fill="#222"/>
<rect x="334.32" y="140.10" width="0.7" height="1.3" fill="#222"/>
<text transform="translate(333.06,145.1) rotate(-90) scale(0.8732,1)" font-size="7.1" text-anchor="end" fill="#000" stroke="#000" stroke-width="0.09">2019/8/6 11:20</text>
<rect x="338.08" y="140.10" width="0.8" height="2.1" fill="#222"/>
<rect x="341.94" y="140.10" width="0.7" height="1.3" fill="#222"/>
<text transform="translate(340.68,145.1) rotate(-90) scale(0.8732,1)" font-size="7.1" text-anchor="end" fill="#000" stroke="#000" stroke-width="0.09">2019/8/6 11:30</text>
<rect x="345.70" y="140.10" width="0.8" height="2.1" fill="#222"/>
<rect x="349.56" y="140.10" width="0.7" height="1.3" fill="#222"/>
<text transform="translate(348.30,145.1) rotate(-90) scale(0.8732,1)" font-size="7.1" text-anchor="end" fill="#000" stroke="#000" stroke-width="0.09">2019/8/6 11:40</text>
<rect x="353.32" y="140.10" width="0.8" height="2.1" fill="#222"/>
<rect x="357.18" y="140.10" width="0.7" height="1.3" fill="#222"/>
<text transform="translate(355.92,145.1) rotate(-90) scale(0.8732,1)" font-size="7.1" text-anchor="end" fill="#000" stroke="#000" stroke-width="0.09">2019/8/6 11:50</text>
<rect x="360.94" y="140.10" width="0.8" height="2.1" fill="#222"/>
<rect x="364.80" y="140.10" width="0.7" height="1.3" fill="#222"/>
<text transform="translate(363.54,145.1) rotate(-90) scale(0.8732,1)" font-size="7.1" text-anchor="end" fill="#000" stroke="#000" stroke-width="0.09">2019/8/6 12:00</text>
<rect x="368.56" y="140.10" width="0.8" height="2.1" fill="#222"/>
<rect x="372.42" y="140.10" width="0.7" height="1.3" fill="#222"/>
<text transform="translate(371.16,145.1) rotate(-90) scale(0.8732,1)" font-size="7.1" text-anchor="end" fill="#000" stroke="#000" stroke-width="0.09">2019/8/6 12:10</text>
<rect x="376.18" y="140.10" width="0.8" height="2.1" fill="#222"/>
<rect x="380.04" y="140.10" width="0.7" height="1.3" fill="#222"/>
<text transform="translate(378.78,145.1) rotate(-90) scale(0.8732,1)" font-size="7.1" text-anchor="end" fill="#000" stroke="#000" stroke-width="0.09">2019/8/6 12:20</text>
<rect x="383.80" y="140.10" width="0.8" height="2.1" fill="#222"/>
<rect x="387.66" y="140.10" width="0.7" height="1.3" fill="#222"/>
<text transform="translate(386.40,145.1) rotate(-90) scale(0.8732,1)" font-size="7.1" text-anchor="end" fill="#000" stroke="#000" stroke-width="0.09">2019/8/6 12:30</text>
<rect x="391.42" y="140.10" width="0.8" height="2.1" fill="#222"/>
<rect x="395.28" y="140.10" width="0.7" height="1.3" fill="#222"/>
<text transform="translate(394.02,145.1) rotate(-90) scale(0.8732,1)" font-size="7.1" text-anchor="end" fill="#000" stroke="#000" stroke-width="0.09">2019/8/6 12:40</text>
<rect x="399.04" y="140.10" width="0.8" height="2.1" fill="#222"/>
<rect x="402.90" y="140.10" width="0.7" height="1.3" fill="#222"/>
<text transform="translate(401.64,145.1) rotate(-90) scale(0.8732,1)" font-size="7.1" text-anchor="end" fill="#000" stroke="#000" stroke-width="0.09">2019/8/6 12:50</text>
<rect x="406.66" y="140.10" width="0.8" height="2.1" fill="#222"/>
<rect x="410.52" y="140.10" width="0.7" height="1.3" fill="#222"/>
<text transform="translate(409.26,145.1) rotate(-90) scale(0.8732,1)" font-size="7.1" text-anchor="end" fill="#000" stroke="#000" stroke-width="0.09">2019/8/6 13:00</text>
<rect x="414.28" y="140.10" width="0.8" height="2.1" fill="#222"/>
<rect x="418.14" y="140.10" width="0.7" height="1.3" fill="#222"/>
<text transform="translate(416.88,145.1) rotate(-90) scale(0.8732,1)" font-size="7.1" text-anchor="end" fill="#000" stroke="#000" stroke-width="0.09">2019/8/6 13:10</text>
<rect x="421.90" y="140.10" width="0.8" height="2.1" fill="#222"/>
<rect x="425.76" y="140.10" width="0.7" height="1.3" fill="#222"/>
<text transform="translate(424.50,145.1) rotate(-90) scale(0.8732,1)" font-size="7.1" text-anchor="end" fill="#000" stroke="#000" stroke-width="0.09">2019/8/6 13:20</text>
<rect x="429.52" y="140.10" width="0.8" height="2.1" fill="#222"/>
<rect x="433.38" y="140.10" width="0.7" height="1.3" fill="#222"/>
<text transform="translate(432.12,145.1) rotate(-90) scale(0.8732,1)" font-size="7.1" text-anchor="end" fill="#000" stroke="#000" stroke-width="0.09">2019/8/6 13:30</text>
<rect x="437.14" y="140.10" width="0.8" height="2.1" fill="#222"/>
<rect x="441.00" y="140.10" width="0.7" height="1.3" fill="#222"/>
<text transform="translate(439.74,145.1) rotate(-90) scale(0.8732,1)" font-size="7.1" text-anchor="end" fill="#000" stroke="#000" stroke-width="0.09">2019/8/6 13:40</text>
<rect x="444.76" y="140.10" width="0.8" height="2.1" fill="#222"/>
<rect x="448.62" y="140.10" width="0.7" height="1.3" fill="#222"/>
<text transform="translate(447.36,145.1) rotate(-90) scale(0.8732,1)" font-size="7.1" text-anchor="end" fill="#000" stroke="#000" stroke-width="0.09">2019/8/6 13:50</text>
<rect x="452.38" y="140.10" width="0.8" height="2.1" fill="#222"/>
<rect x="456.24" y="140.10" width="0.7" height="1.3" fill="#222"/>
<text transform="translate(454.98,145.1) rotate(-90) scale(0.8732,1)" font-size="7.1" text-anchor="end" fill="#000" stroke="#000" stroke-width="0.09">2019/8/6 14:00</text>
<rect x="460.00" y="140.10" width="0.8" height="2.1" fill="#222"/>
<rect x="463.86" y="140.10" width="0.7" height="1.3" fill="#222"/>
<text transform="translate(462.60,145.1) rotate(-90) scale(0.8732,1)" font-size="7.1" text-anchor="end" fill="#000" stroke="#000" stroke-width="0.09">2019/8/6 14:10</text>
<rect x="467.62" y="140.10" width="0.8" height="2.1" fill="#222"/>
<rect x="471.48" y="140.10" width="0.7" height="1.3" fill="#222"/>
<text transform="translate(470.22,145.1) rotate(-90) scale(0.8732,1)" font-size="7.1" text-anchor="end" fill="#000" stroke="#000" stroke-width="0.09">2019/8/6 14:20</text>
<rect x="475.24" y="140.10" width="0.8" height="2.1" fill="#222"/>
<rect x="479.10" y="140.10" width="0.7" height="1.3" fill="#222"/>
<text transform="translate(477.84,145.1) rotate(-90) scale(0.8732,1)" font-size="7.1" text-anchor="end" fill="#000" stroke="#000" stroke-width="0.09">2019/8/6 14:30</text>
<rect x="482.86" y="140.10" width="0.8" height="2.1" fill="#222"/>
<rect x="486.72" y="140.10" width="0.7" height="1.3" fill="#222"/>
<text transform="translate(485.46,145.1) rotate(-90) scale(0.8732,1)" font-size="7.1" text-anchor="end" fill="#000" stroke="#000" stroke-width="0.09">2019/8/6 14:40</text>
<rect x="490.48" y="140.10" width="0.8" height="2.1" fill="#222"/>
<rect x="494.34" y="140.10" width="0.7" height="1.3" fill="#222"/>
<text transform="translate(493.08,145.1) rotate(-90) scale(0.8732,1)" font-size="7.1" text-anchor="end" fill="#000" stroke="#000" stroke-width="0.09">2019/8/6 14:50</text>
<rect x="498.10" y="140.10" width="0.8" height="2.1" fill="#222"/>
<rect x="501.96" y="140.10" width="0.7" height="1.3" fill="#222"/>
<text transform="translate(500.70,145.1) rotate(-90) scale(0.8732,1)" font-size="7.1" text-anchor="end" fill="#000" stroke="#000" stroke-width="0.09">2019/8/6 15:00</text>
<rect x="505.72" y="140.10" width="0.8" height="2.1" fill="#222"/>
<rect x="509.58" y="140.10" width="0.7" height="1.3" fill="#222"/>
<text transform="translate(508.32,145.1) rotate(-90) scale(0.8732,1)" font-size="7.1" text-anchor="end" fill="#000" stroke="#000" stroke-width="0.09">2019/8/6 15:10</text>
<rect x="513.34" y="140.10" width="0.8" height="2.1" fill="#222"/>
<rect x="517.20" y="140.10" width="0.7" height="1.3" fill="#222"/>
<text transform="translate(515.94,145.1) rotate(-90) scale(0.8732,1)" font-size="7.1" text-anchor="end" fill="#000" stroke="#000" stroke-width="0.09">2019/8/6 15:20</text>
<rect x="520.96" y="140.10" width="0.8" height="2.1" fill="#222"/>
<rect x="524.82" y="140.10" width="0.7" height="1.3" fill="#222"/>
<text transform="translate(523.56,145.1) rotate(-90) scale(0.8732,1)" font-size="7.1" text-anchor="end" fill="#000" stroke="#000" stroke-width="0.09">2019/8/6 15:30</text>
<rect x="528.58" y="140.10" width="0.8" height="2.1" fill="#222"/>
<rect x="532.44" y="140.10" width="0.7" height="1.3" fill="#222"/>
<text transform="translate(531.18,145.1) rotate(-90) scale(0.8732,1)" font-size="7.1" text-anchor="end" fill="#000" stroke="#000" stroke-width="0.09">2019/8/6 15:40</text>
<rect x="536.20" y="140.10" width="0.8" height="2.1" fill="#222"/>
<text transform="translate(538.80,145.1) rotate(-90) scale(0.8732,1)" font-size="7.1" text-anchor="end" fill="#000" stroke="#000" stroke-width="0.09">2019/8/6 23:50</text>
<text transform="translate(288.60,99.3) rotate(-90)" font-size="7.4" text-anchor="start" fill="#111">Rainfall（mm）</text>
<text x="422.50" y="190.50" font-size="7.3" text-anchor="middle" fill="#111" >Time</text>
<rect x="308.00" y="9.10" width="16.5" height="8.4" fill="#FCBE91"/>
<text x="326.80" y="15.70" font-size="7.5" text-anchor="start" fill="#111" >Station 1</text>
<rect x="308.00" y="18.40" width="16.5" height="8.4" fill="#78D496"/>
<text x="326.80" y="25.00" font-size="7.5" text-anchor="start" fill="#111" >Station 2</text>
<rect x="308.00" y="27.80" width="16.5" height="8.4" fill="#C3ACDC"/>
<text x="326.80" y="34.40" font-size="7.5" text-anchor="start" fill="#111" >Station 3</text>
<rect x="355.80" y="9.10" width="16.5" height="8.4" fill="#FDFD96"/>
<text x="374.30" y="15.70" font-size="7.5" text-anchor="start" fill="#111" >Station 4</text>
<rect x="355.80" y="18.40" width="16.5" height="8.4" fill="#8CAFEB"/>
<text x="374.30" y="25.00" font-size="7.5" text-anchor="start" fill="#111" >Station 5</text>
<rect x="355.80" y="27.80" width="16.5" height="8.4" fill="#FFAFFA"/>
<text x="374.30" y="34.40" font-size="7.5" text-anchor="start" fill="#111" >Station 6</text>
<rect x="403.40" y="9.10" width="16.5" height="8.4" fill="#AEB48C"/>
<text x="421.70" y="15.70" font-size="7.5" text-anchor="start" fill="#111" >Station 7</text>
<rect x="403.40" y="18.40" width="16.5" height="8.4" fill="#9EDEE8"/>
<text x="421.70" y="25.00" font-size="7.5" text-anchor="start" fill="#111" >Station 8</text>
<rect x="403.40" y="27.80" width="16.5" height="8.4" fill="#FCBE91"/>
<text x="421.70" y="34.40" font-size="7.5" text-anchor="start" fill="#111" >Station 9</text>
<rect x="451.00" y="9.10" width="16.5" height="8.4" fill="#78D496"/>
<text x="469.40" y="15.70" font-size="7.5" text-anchor="start" fill="#111" >Station 10</text>
<rect x="451.00" y="18.40" width="16.5" height="8.4" fill="#C3ACDC"/>
<text x="469.40" y="25.00" font-size="7.5" text-anchor="start" fill="#111" >Station 11</text>
<rect x="451.00" y="27.80" width="16.5" height="8.4" fill="#FDFD96"/>
<text x="469.40" y="34.40" font-size="7.5" text-anchor="start" fill="#111" >Station 12</text>
<rect x="72.5" y="193.3" width="139.3" height="18.4" fill="#FBAC7C"/>
<text transform="translate(78.6,209.1) scale(0.96,1)" font-size="17.2" fill="#111" class="big">Storm 1: 20190804</text>
<rect x="341.3" y="193.3" width="139.7" height="18.4" fill="#FBAC7C"/>
<text transform="translate(347.5,209.1) scale(0.96,1)" font-size="17.2" fill="#111" class="big">Storm 2: 20190806</text>
<g transform="translate(0,0)">
<clipPath id="clipL"><polygon points="28.1,249.6 29.6,247.8 33.2,248.7 34.7,246.9 38.7,247.8 44.6,252.9 51.8,255.0 60.6,253.0 67.9,248.7 73.0,246.0 75.7,254.6 81.2,253.7 79.6,244.8 81.1,239.6 80.7,234.1 84.0,232.3 98.7,239.2 107.8,244.7 113.2,241.4 122.4,243.2 128.8,248.7 133.3,242.3 140.6,242.3 148.8,244.2 154.3,250.5 168.9,237.4 170.2,243.2 173.5,250.5 180.8,251.3 188.4,247.9 192.6,253.4 194.2,260.4 199.6,261.4 214.2,262.3 216.1,265.9 215.2,271.0 213.9,273.6 208.4,276.4 206.6,280.0 208.4,285.5 217.5,286.4 220.3,290.1 223.9,289.2 224.8,295.5 230.3,297.4 233.0,303.8 226.6,306.5 225.7,314.7 219.3,322.0 220.3,323.8 224.8,324.7 228.8,328.4 224.8,331.1 222.4,338.3 221.5,342.8 223.0,350.1 222.1,353.7 230.3,360.1 234.9,369.2 238.0,378.4 238.0,384.7 230.3,387.5 223.0,391.1 219.3,392.0 215.7,389.3 211.1,382.9 204.7,378.4 195.6,376.5 186.5,374.7 180.1,372.0 173.7,372.9 168.2,375.3 162.8,377.4 154.7,375.7 146.8,373.8 143.8,368.2 133.8,370.2 124.6,371.8 122.9,366.0 111.2,362.8 106.6,358.3 96.6,360.1 89.3,363.8 84.7,371.1 77.4,373.8 75.6,376.5 70.1,372.9 62.8,369.2 61.0,364.7 58.2,360.5 53.8,356.8 48.0,356.1 48.7,351.7 46.5,345.9 42.1,349.5 37.7,351.7 34.1,356.8 29.0,358.3 24.6,355.4 19.5,348.8 17.3,341.5 18.0,336.4 20.9,331.3 22.4,321.1 19.6,312.6 24.9,307.9 29.2,304.0 34.2,300.7 35.3,296.9 35.3,293.1 36.9,290.3 40.7,285.4 42.0,280.6 40.5,274.3 39.6,267.0 38.4,260.6 35.1,257.8 28.7,255.1"/></clipPath>
<g clip-path="url(#clipL)">
<polygon points="10.0,225.0 90.0,225.0 101.5,232.0 98.7,239.2 78.0,271.5 38.4,260.6 10.0,255.0" fill="#AAE614" stroke="#AAE614" stroke-width="0.4"/>
<polygon points="10.0,255.0 38.4,260.6 78.0,271.5 74.3,288.0 42.4,280.7 10.0,275.0" fill="#1AB212" stroke="#1AB212" stroke-width="0.4"/>
<polygon points="101.5,232.0 120.0,225.0 105.0,238.0 107.8,244.7 114.2,253.8 118.9,284.5 74.2,296.6 74.3,288.0 78.0,271.5 98.7,239.2" fill="#3CC814" stroke="#3CC814" stroke-width="0.4"/>
<polygon points="10.0,275.0 42.4,280.7 74.3,288.0 74.2,296.6 73.1,316.5 71.9,321.8 19.6,312.6 5.0,309.0" fill="#FFE614" stroke="#FFE614" stroke-width="0.4"/>
<polygon points="5.0,309.0 19.6,312.6 71.9,321.8 72.6,327.4 73.1,343.8 61.0,364.7 50.0,385.0 5.0,385.0" fill="#10A010" stroke="#10A010" stroke-width="0.4"/>
<polygon points="50.0,385.0 61.0,364.7 73.1,343.8 164.6,365.6 170.4,373.8 176.0,385.0" fill="#78D214" stroke="#78D214" stroke-width="0.4"/>
<polygon points="74.2,296.6 118.9,284.5 127.0,298.6 73.1,316.5" fill="#FF3205" stroke="#FF3205" stroke-width="0.4"/>
<polygon points="73.1,316.5 127.0,298.6 133.4,327.1 72.6,327.4 71.9,321.8" fill="#FF960A" stroke="#FF960A" stroke-width="0.4"/>
<polygon points="72.6,327.4 133.4,327.1 164.6,365.6 73.1,343.8" fill="#FFBE0F" stroke="#FFBE0F" stroke-width="0.4"/>
<polygon points="114.2,253.8 189.6,275.0 127.0,298.6 118.9,284.5" fill="#E6F514" stroke="#E6F514" stroke-width="0.4"/>
<polygon points="105.0,238.0 250.0,225.0 250.0,270.0 208.4,276.4 189.6,275.0 114.2,253.8 107.8,244.7" fill="#FF640A" stroke="#FF640A" stroke-width="0.4"/>
<polygon points="189.6,275.0 208.4,276.4 250.0,270.0 250.0,400.0 176.0,400.0 176.0,385.0 170.4,373.8 164.6,365.6 133.4,327.1 127.0,298.6" fill="#FF0000" stroke="#FF0000" stroke-width="0.4"/>
</g>
<text x="179.60" y="221.30" font-size="6.88" text-anchor="start" fill="#111" >Accumulated rainfall depth (mm)</text>
<rect x="217.60" y="225.90" width="12.4" height="6.0" fill="#10A010"/>
<text transform="translate(232.10,230.90)" font-size="6.1" fill="#111">13.5</text>
<rect x="217.60" y="234.83" width="12.4" height="6.0" fill="#1AB212"/>
<text transform="translate(232.10,239.83)" font-size="6.1" fill="#111">24.5</text>
<rect x="217.60" y="243.76" width="12.4" height="6.0" fill="#3CC814"/>
<text transform="translate(232.10,248.76)" font-size="6.1" fill="#111">25.0</text>
<rect x="217.60" y="252.69" width="12.4" height="6.0" fill="#78D214"/>
<text transform="translate(232.10,257.69)" font-size="6.1" fill="#111">26.5</text>
<rect x="217.60" y="261.62" width="12.4" height="6.0" fill="#AAE614"/>
<text transform="translate(232.10,266.62)" font-size="6.1" fill="#111">33.0</text>
<rect x="217.60" y="270.55" width="12.4" height="6.0" fill="#E6F514"/>
<text transform="translate(232.10,275.55)" font-size="6.1" fill="#111">33.5</text>
<rect x="245.90" y="225.90" width="12.4" height="6.0" fill="#FFE614"/>
<text transform="translate(260.40,230.90)" font-size="6.1" fill="#111">36.5</text>
<rect x="245.90" y="234.83" width="12.4" height="6.0" fill="#FFBE0F"/>
<text transform="translate(260.40,239.83)" font-size="6.1" fill="#111">39.5</text>
<rect x="245.90" y="243.76" width="12.4" height="6.0" fill="#FF960A"/>
<text transform="translate(260.40,248.76)" font-size="6.1" fill="#111">40.0</text>
<rect x="245.90" y="252.69" width="12.4" height="6.0" fill="#FF640A"/>
<text transform="translate(260.40,257.69)" font-size="6.1" fill="#111">50.5</text>
<rect x="245.90" y="261.62" width="12.4" height="6.0" fill="#FF3205"/>
<text transform="translate(260.40,266.62)" font-size="6.1" fill="#111">53.0</text>
<rect x="245.90" y="270.55" width="12.4" height="6.0" fill="#FF0000"/>
<text transform="translate(260.40,275.55)" font-size="6.1" fill="#111">81.0</text>
</g>
<g transform="translate(270,0)">
<clipPath id="clipR"><polygon points="28.1,249.6 29.6,247.8 33.2,248.7 34.7,246.9 38.7,247.8 44.6,252.9 51.8,255.0 60.6,253.0 67.9,248.7 73.0,246.0 75.7,254.6 81.2,253.7 79.6,244.8 81.1,239.6 80.7,234.1 84.0,232.3 98.7,239.2 107.8,244.7 113.2,241.4 122.4,243.2 128.8,248.7 133.3,242.3 140.6,242.3 148.8,244.2 154.3,250.5 168.9,237.4 170.2,243.2 173.5,250.5 180.8,251.3 188.4,247.9 192.6,253.4 194.2,260.4 199.6,261.4 214.2,262.3 216.1,265.9 215.2,271.0 213.9,273.6 208.4,276.4 206.6,280.0 208.4,285.5 217.5,286.4 220.3,290.1 223.9,289.2 224.8,295.5 230.3,297.4 233.0,303.8 226.6,306.5 225.7,314.7 219.3,322.0 220.3,323.8 224.8,324.7 228.8,328.4 224.8,331.1 222.4,338.3 221.5,342.8 223.0,350.1 222.1,353.7 230.3,360.1 234.9,369.2 238.0,378.4 238.0,384.7 230.3,387.5 223.0,391.1 219.3,392.0 215.7,389.3 211.1,382.9 204.7,378.4 195.6,376.5 186.5,374.7 180.1,372.0 173.7,372.9 168.2,375.3 162.8,377.4 154.7,375.7 146.8,373.8 143.8,368.2 133.8,370.2 124.6,371.8 122.9,366.0 111.2,362.8 106.6,358.3 96.6,360.1 89.3,363.8 84.7,371.1 77.4,373.8 75.6,376.5 70.1,372.9 62.8,369.2 61.0,364.7 58.2,360.5 53.8,356.8 48.0,356.1 48.7,351.7 46.5,345.9 42.1,349.5 37.7,351.7 34.1,356.8 29.0,358.3 24.6,355.4 19.5,348.8 17.3,341.5 18.0,336.4 20.9,331.3 22.4,321.1 19.6,312.6 24.9,307.9 29.2,304.0 34.2,300.7 35.3,296.9 35.3,293.1 36.9,290.3 40.7,285.4 42.0,280.6 40.5,274.3 39.6,267.0 38.4,260.6 35.1,257.8 28.7,255.1"/></clipPath>
<g clip-path="url(#clipR)">
<polygon points="10.0,225.0 90.0,225.0 101.5,232.0 98.7,239.2 78.0,271.5 38.4,260.6 10.0,255.0" fill="#AAE614" stroke="#AAE614" stroke-width="0.4"/>
<polygon points="10.0,255.0 38.4,260.6 78.0,271.5 74.3,288.0 42.4,280.7 10.0,275.0" fill="#78D214" stroke="#78D214" stroke-width="0.4"/>
<polygon points="101.5,232.0 120.0,225.0 105.0,238.0 107.8,244.7 114.2,253.8 118.9,284.5 74.2,296.6 74.3,288.0 78.0,271.5 98.7,239.2" fill="#FFE614" stroke="#FFE614" stroke-width="0.4"/>
<polygon points="10.0,275.0 42.4,280.7 74.3,288.0 74.2,296.6 73.1,316.5 71.9,321.8 19.6,312.6 5.0,309.0" fill="#1AB212" stroke="#1AB212" stroke-width="0.4"/>
<polygon points="5.0,309.0 19.6,312.6 71.9,321.8 72.6,327.4 73.1,343.8 61.0,364.7 50.0,385.0 5.0,385.0" fill="#10A010" stroke="#10A010" stroke-width="0.4"/>
<polygon points="50.0,385.0 61.0,364.7 73.1,343.8 164.6,365.6 170.4,373.8 176.0,385.0" fill="#3CC814" stroke="#3CC814" stroke-width="0.4"/>
<polygon points="74.2,296.6 118.9,284.5 127.0,298.6 73.1,316.5" fill="#FF0000" stroke="#FF0000" stroke-width="0.4"/>
<polygon points="73.1,316.5 127.0,298.6 133.4,327.1 72.6,327.4 71.9,321.8" fill="#FF960A" stroke="#FF960A" stroke-width="0.4"/>
<polygon points="72.6,327.4 133.4,327.1 164.6,365.6 73.1,343.8" fill="#FFBE0F" stroke="#FFBE0F" stroke-width="0.4"/>
<polygon points="114.2,253.8 189.6,275.0 127.0,298.6 118.9,284.5" fill="#E6F514" stroke="#E6F514" stroke-width="0.4"/>
<polygon points="105.0,238.0 250.0,225.0 250.0,270.0 208.4,276.4 189.6,275.0 114.2,253.8 107.8,244.7" fill="#FF3205" stroke="#FF3205" stroke-width="0.4"/>
<polygon points="189.6,275.0 208.4,276.4 250.0,270.0 250.0,400.0 176.0,400.0 176.0,385.0 170.4,373.8 164.6,365.6 133.4,327.1 127.0,298.6" fill="#FF640A" stroke="#FF640A" stroke-width="0.4"/>
</g>
<text x="179.60" y="221.30" font-size="6.88" text-anchor="start" fill="#111" >Accumulated rainfall depth (mm)</text>
<rect x="217.60" y="225.90" width="12.4" height="6.0" fill="#10A010"/>
<text transform="translate(232.10,230.90)" font-size="6.1" fill="#111">2.0</text>
<rect x="217.60" y="234.83" width="12.4" height="6.0" fill="#1AB212"/>
<text transform="translate(232.10,239.83)" font-size="6.1" fill="#111">12.0</text>
<rect x="217.60" y="243.76" width="12.4" height="6.0" fill="#3CC814"/>
<text transform="translate(232.10,248.76)" font-size="6.1" fill="#111">14.5</text>
<rect x="217.60" y="252.69" width="12.4" height="6.0" fill="#78D214"/>
<text transform="translate(232.10,257.69)" font-size="6.1" fill="#111">21.0</text>
<rect x="217.60" y="261.62" width="12.4" height="6.0" fill="#AAE614"/>
<text transform="translate(232.10,266.62)" font-size="6.1" fill="#111">37.5</text>
<rect x="217.60" y="270.55" width="12.4" height="6.0" fill="#E6F514"/>
<text transform="translate(232.10,275.55)" font-size="6.1" fill="#111">41.5</text>
<rect x="245.90" y="225.90" width="12.4" height="6.0" fill="#FFE614"/>
<text transform="translate(260.40,230.90)" font-size="6.1" fill="#111">42.5</text>
<rect x="245.90" y="234.83" width="12.4" height="6.0" fill="#FFBE0F"/>
<text transform="translate(260.40,239.83)" font-size="6.1" fill="#111">61.2</text>
<rect x="245.90" y="243.76" width="12.4" height="6.0" fill="#FF960A"/>
<text transform="translate(260.40,248.76)" font-size="6.1" fill="#111">65.0</text>
<rect x="245.90" y="252.69" width="12.4" height="6.0" fill="#FF640A"/>
<text transform="translate(260.40,257.69)" font-size="6.1" fill="#111">74.5</text>
<rect x="245.90" y="261.62" width="12.4" height="6.0" fill="#FF3205"/>
<text transform="translate(260.40,266.62)" font-size="6.1" fill="#111">82.5</text>
<rect x="245.90" y="270.55" width="12.4" height="6.0" fill="#FF0000"/>
<text transform="translate(260.40,275.55)" font-size="6.1" fill="#111">98.0</text>
</g>
</svg>
</body></html>
